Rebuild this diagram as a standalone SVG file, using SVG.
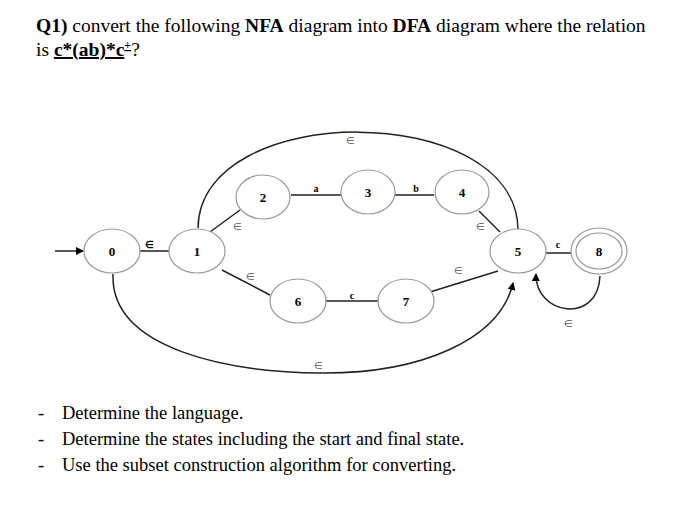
<svg xmlns="http://www.w3.org/2000/svg" width="696" height="514" viewBox="0 0 696 514">
<style>
text{font-family:"Liberation Serif",serif;fill:#000}
.t{font-size:18.5px}
.h{font-size:19.5px}
.n ellipse{fill:#fff;stroke:#999;stroke-width:1.2}
.n text{font-size:13px;font-weight:bold;text-anchor:middle}
.e{stroke:#222;stroke-width:1.5;fill:none}
.l{font-size:10px;font-weight:bold;text-anchor:middle}
.eps{font-size:10px;fill:#555;text-anchor:middle}
</style>
<defs><marker id="ar" markerWidth="8" markerHeight="8" refX="7" refY="4" orient="auto" markerUnits="userSpaceOnUse"><path d="M0,0 L8,4 L0,8 Z" fill="#000"/></marker></defs>
<text class="h" x="36" y="32"><tspan font-weight="bold">Q1)</tspan> convert the following <tspan font-weight="bold">NFA</tspan> diagram into <tspan font-weight="bold">DFA</tspan> diagram where the relation</text>
<text class="h" x="36" y="56">is <tspan font-weight="bold" text-decoration="underline">c*(ab)*c<tspan baseline-shift="super" font-size="12px">+</tspan></tspan>?</text>
<g id="connectors">
<path class="e" d="M55,251 H83" marker-end="url(#ar)"/>
<path class="e" d="M140,251 H169"/>
<path class="e" d="M210,232 L240,210"/>
<path class="e" d="M222,270 L270,295"/>
<path class="e" d="M291,195 H341"/>
<path class="e" d="M395,195 H434"/>
<path class="e" d="M479,211 L500,232"/>
<path class="e" d="M326,301 H378"/>
<path class="e" d="M430,292 L498,271"/>
<path class="e" d="M546,253 H576"/>
<path class="e" d="M198,228 C200,100 515,100 518,229"/>
<path class="e" d="M113,274 C110,350 230,372 320,373 C420,374 500,340 513,283" marker-end="url(#ar)"/>
<path class="e" d="M600,276 C598,325 535,315 536,274" marker-end="url(#ar)"/>
<text class="l" x="149" y="248">∈</text>
<text class="eps" x="237" y="230">∈</text>
<text class="eps" x="250" y="280">∈</text>
<text class="l" x="316" y="192">a</text>
<text class="l" x="416" y="192">b</text>
<text class="eps" x="480" y="230">∈</text>
<text class="l" x="352" y="299">c</text>
<text class="eps" x="458" y="274">∈</text>
<text class="l" x="558" y="248">c</text>
<text class="eps" x="350" y="144">∈</text>
<text class="eps" x="318" y="369">∈</text>
<text class="eps" x="568" y="327">∈</text>
</g>
<g id="n0" class="n"><ellipse cx="112" cy="251" rx="28" ry="22"/><text x="112" y="256">0</text></g>
<g id="n1" class="n"><ellipse cx="197" cy="251" rx="28" ry="22"/><text x="197" y="256">1</text></g>
<g id="n2" class="n"><ellipse cx="263" cy="197" rx="27" ry="22"/><text x="263" y="202">2</text></g>
<g id="n3" class="n"><ellipse cx="368" cy="192" rx="27" ry="22"/><text x="368" y="197">3</text></g>
<g id="n4" class="n"><ellipse cx="462" cy="192" rx="27" ry="22"/><text x="462" y="197">4</text></g>
<g id="n5" class="n"><ellipse cx="518" cy="251" rx="28" ry="22"/><text x="518" y="256">5</text></g>
<g id="n6" class="n"><ellipse cx="298" cy="301" rx="28" ry="22"/><text x="298" y="306">6</text></g>
<g id="n7" class="n"><ellipse cx="406" cy="301" rx="28" ry="22"/><text x="406" y="306">7</text></g>
<g id="n8" class="n"><ellipse cx="599" cy="251" rx="28" ry="23"/><ellipse cx="599" cy="251" rx="23" ry="18"/><text x="599" y="256">8</text></g>
<text class="t" x="38" y="419">-</text><text class="t" x="62" y="419">Determine the language.</text>
<text class="t" x="38" y="445">-</text><text class="t" x="62" y="445">Determine the states including the start and final state.</text>
<text class="t" x="38" y="471">-</text><text class="t" x="62" y="471">Use the subset construction algorithm for converting.</text>
</svg>
